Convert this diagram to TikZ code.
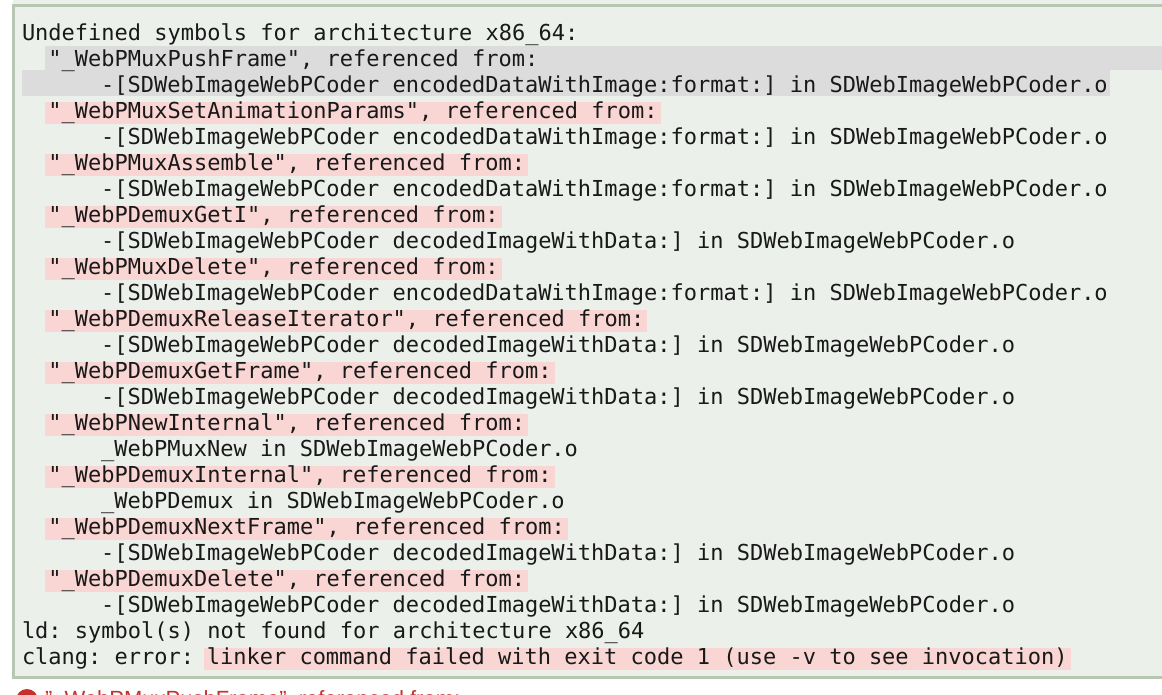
\documentclass[tikz,border=0pt]{standalone}
\usepackage{fontspec}
\setmonofont{DejaVu Sans Mono}
\setsansfont{Liberation Sans}
\definecolor{bgc}{HTML}{ECF0EB}
\definecolor{brd}{HTML}{B8C6B4}
\definecolor{hl}{HTML}{DCDCDC}
\definecolor{pk}{HTML}{F9D6D4}
\definecolor{errred}{HTML}{C8302C}
\begin{document}
\begin{tikzpicture}[x=1pt,y=-1pt,
  ln/.style={anchor=text,inner sep=0pt,font=\ttfamily\fontsize{22}{22}\selectfont,text=black!90},
  pkln/.style={ln,fill=pk,inner xsep=3pt,text height=16pt,text depth=6pt}]
\useasboundingbox (0,0) rectangle (1162,694);
\fill[white] (0,0) rectangle (1162,694);
\fill[bgc] (13,0) rectangle (1162,677);
\draw[brd,line width=3] (1162,5) -- (13.5,5) -- (13.5,677) -- (1162,677);
% gray selection
\fill[hl] (45,46) rectangle (1162,70);
\fill[hl] (22,70) rectangle (1110,96);
\def\cw{13.2}
\def\lx{22}
\node[ln] (l0) at (\lx,40) {Undefined symbols for architecture x86\_64:};
\foreach \i/\s/\m in {0/MuxPushFrame/encodedDataWithImage:format:,
 1/MuxSetAnimationParams/encodedDataWithImage:format:,
 2/MuxAssemble/encodedDataWithImage:format:,
 3/DemuxGetI/decodedImageWithData:,
 4/MuxDelete/encodedDataWithImage:format:,
 5/DemuxReleaseIterator/decodedImageWithData:,
 6/DemuxGetFrame/decodedImageWithData:,
 9/DemuxNextFrame/decodedImageWithData:,
 10/DemuxDelete/decodedImageWithData:}{
  \pgfmathsetmacro\ya{40+(2*\i+1)*26}
  \pgfmathsetmacro\yb{40+(2*\i+2)*26}
  \ifnum\i=0
    \node[ln] (s\i) at (\lx+2*\cw,\ya) {"\_WebP\s", referenced from:};
  \else
    \node[pkln] (s\i) at (\lx+2*\cw,\ya) {"\_WebP\s", referenced from:};
  \fi
  \node[ln] (r\i) at (\lx+6*\cw,\yb) {-[SDWebImageWebPCoder \m] in SDWebImageWebPCoder.o};
}
\node[pkln] (s7) at (\lx+2*\cw,40+15*26) {"\_WebPNewInternal", referenced from:};
\node[ln] (r7) at (\lx+6*\cw,40+16*26) {\_WebPMuxNew in SDWebImageWebPCoder.o};
\node[pkln] (s8) at (\lx+2*\cw,40+17*26) {"\_WebPDemuxInternal", referenced from:};
\node[ln] (r8) at (\lx+6*\cw,40+18*26) {\_WebPDemux in SDWebImageWebPCoder.o};
\node[ln] (ld) at (\lx,40+23*26) {ld: symbol(s) not found for architecture x86\_64};
\node[ln] (cl) at (\lx,40+24*26) {clang: error:};
\node[pkln] (clm) at (\lx+14*\cw,40+24*26) {linker command failed with exit code 1 (use -v to see invocation)};
\begin{scope}
\clip (0,682) rectangle (1162,694);
\fill[errred] (27,700) circle (11);
\node[anchor=text,inner sep=0pt,font=\sffamily\fontsize{22}{22}\selectfont,text=errred] (bt) at (45,706) {"\_WebPMuxPushFrame", referenced from:};
\end{scope}
\end{tikzpicture}
\end{document}
